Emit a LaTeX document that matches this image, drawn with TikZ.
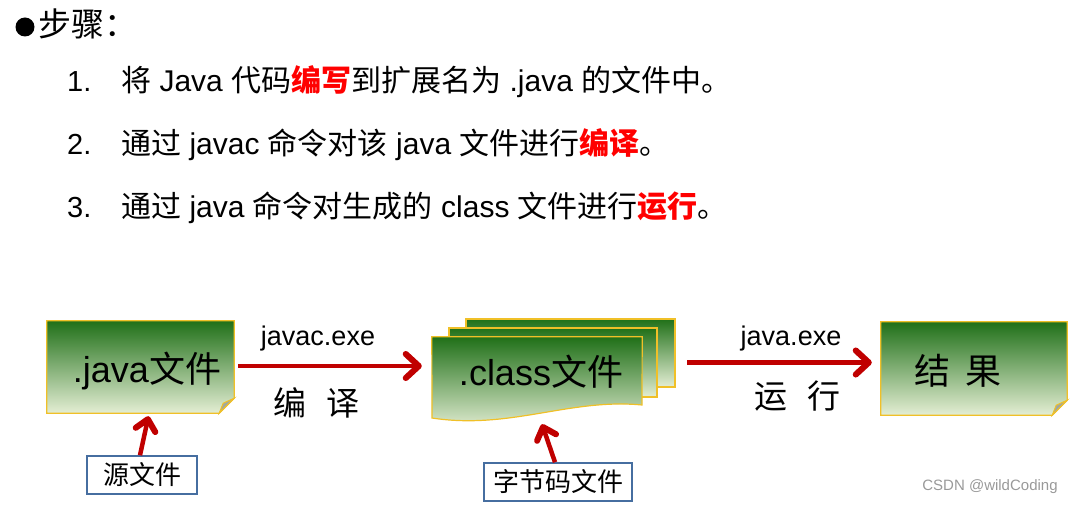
\documentclass[tikz,border=0pt]{standalone}
\usepackage{fontspec}
\setmainfont{Liberation Sans}
\newfontfamily\cjk{Noto Sans CJK SC}
\usetikzlibrary{arrows.meta}
\usetikzlibrary{calc}
\definecolor{arrowred}{RGB}{192,0,0}
\definecolor{boxgold}{RGB}{240,192,40}
\definecolor{gdark}{RGB}{32,112,24}
\definecolor{gmid}{RGB}{150,184,104}
\definecolor{glight}{RGB}{228,238,212}
\definecolor{notefrm}{RGB}{70,110,160}
\definecolor{foldgray}{RGB}{160,168,160}
\pgfdeclarelayer{bg}
\pgfsetlayers{bg,main}
\tikzset{
  boxfill/.style={top color=gdark,middle color=gmid,bottom color=glight,
    draw=boxgold,line width=1.2pt},
  filebox/.style={inner sep=0pt},
  boxtext/.style={inner sep=0pt,font=\fontsize{36}{36}\selectfont},
  stepnum/.style={anchor=base west,inner sep=0pt,font=\fontsize{29}{30}\selectfont},
  steptext/.style={anchor=base west,inner sep=0pt,font=\fontsize{30}{30}\selectfont},
  arrowlabel/.style={inner sep=0pt,font=\fontsize{27}{27}\selectfont},
  cnlabel/.style={inner sep=0pt,font=\cjk\fontsize{33}{33}\selectfont},
  notebox/.style={draw=notefrm,line width=1.5pt,inner sep=0pt,
    font=\cjk\fontsize{26}{26}\selectfont},
  flow/.style={draw=arrowred,line width=4.5pt,
    -{Straight Barb[length=13pt,width=24pt,line width=0pt 1.35,round]}},
  pointer/.style={draw=arrowred,line width=4.5pt,
    -{Straight Barb[length=11pt,width=20pt,line width=0pt 1.35,round]}},
}
\newcommand{\hot}[1]{\textcolor{red}{\bfseries #1}}
% green page with a folded corner, drawn behind a node
\newcommand{\foldbox}[1]{%
  \path[boxfill] (#1.north west) -- (#1.north east) -- ([yshift=15pt]#1.south east)
    -- ([xshift=-15pt]#1.south east) -- (#1.south west) -- cycle;
  \filldraw[fill=foldgray,draw=boxgold,line width=1pt] ([yshift=15pt]#1.south east)
    -- ([xshift=-15pt]#1.south east) -- ([xshift=-11pt,yshift=10pt]#1.south east) -- cycle;
}
\begin{document}
\begin{tikzpicture}[x=1pt,y=-1pt]
\useasboundingbox (0,0) rectangle (1073,505);
%heading
\node[circle,fill=black,minimum size=19pt,inner sep=0pt] (dot) at (25,27) {};
\node[anchor=base west,inner sep=0pt,font=\cjk\fontsize{33}{33}\selectfont] (head) at (38,37) {步骤：};
%steps
\foreach \n/\y in {1/92,2/155,3/218}
  \node[stepnum] (n\n) at (67,\y) {\n.};
\node[steptext] (s1) at (121,92) {{\cjk 将} Java {\cjk 代码\hot{编写}到扩展名为} .java {\cjk 的文件中。}};
\node[steptext] (s2) at (121,155) {{\cjk 通过} javac {\cjk 命令对该} java {\cjk 文件进行\hot{编译}。}};
\node[steptext] (s3) at (121,218) {{\cjk 通过} java {\cjk 命令对生成的} class {\cjk 文件进行\hot{运行}。}};
%files
\node[filebox,minimum width=187pt,minimum height=92pt] (jfile) at (140.5,367) {};
\node[filebox,minimum width=210pt,minimum height=81pt] (cfile) at (537,377.5) {};
\node[filebox,minimum width=186pt,minimum height=93pt] (rbox) at (974,368.5) {};
\begin{pgfonlayer}{bg}
  \foldbox{jfile}
  \foldbox{rbox}
  \path[boxfill] (466,319) rectangle (675,387);
  \path[boxfill] (449,328) rectangle (657,397);
  \path[boxfill] (cfile.north west) -- (cfile.north east) -- (642,405)
    .. controls (570,398) and (510,430) .. (432,418) -- cycle;
\end{pgfonlayer}
\node[boxtext] (jtext) at (147,371) {.java{\cjk 文件}};
\node[boxtext] (ctext) at (541,372) {.class{\cjk 文件}};
\node[boxtext,font=\cjk\fontsize{36}{36}\selectfont] (rtext) at (958,371) {结\hspace{16pt}果};
%notes
\node[notebox,minimum width=110pt,minimum height=38pt] (src) at (142,475) {源文件};
\node[notebox,minimum width=148pt,minimum height=38pt] (bcode) at (558,482) {字节码文件};
%labels
\node[arrowlabel] (javac) at (318,339) {javac.exe};
\node[cnlabel] (bianyi) at (316,403) {编\hspace{20pt}译};
\node[arrowlabel] (javaexe) at (791,339) {java.exe};
\node[cnlabel] (yunxing) at (797,396) {运\hspace{20pt}行};
%arrows
\draw[flow] ([xshift=4pt,yshift=1pt]jfile.east) -- ($(jfile.east -| cfile.west)+(-10,-1)$);
\draw[flow] ($(cfile.east |- rbox.west)+(45,-6)$) -- ($(rbox.west)+(-9,-6)$);
\draw[pointer] ([xshift=-2pt]src.north) -- ([xshift=8pt,yshift=-3pt]jfile.south);
\draw[pointer] ([xshift=-3pt]bcode.north) -- ([xshift=5pt,yshift=-6pt]cfile.south);
\node[font=\fontsize{15}{15}\selectfont,text=gray!80] (mark) at (990,487) {CSDN @wildCoding};
\end{tikzpicture}
\end{document}
